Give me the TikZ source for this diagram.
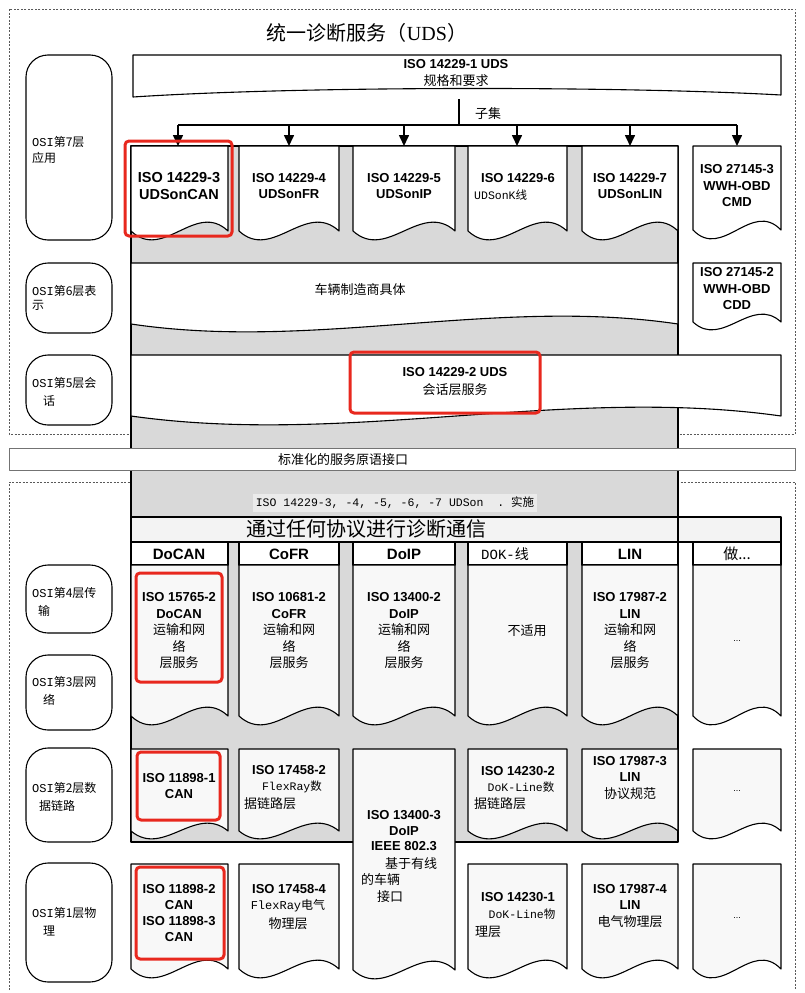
\documentclass[tikz,border=0pt]{standalone}
\usepackage{fontspec}
\setmainfont{Liberation Sans}
\newfontfamily\zh{Noto Sans CJK SC}
\newfontfamily\mono{Liberation Mono}
\newfontfamily\serif{Liberation Serif}
\usetikzlibrary{arrows.meta}
\definecolor{grayfill}{HTML}{D9D9D9}
\definecolor{redbox}{HTML}{E8281E}
\definecolor{pale}{HTML}{F8F8F8}
\definecolor{bandfill}{HTML}{F3F3F3}
\definecolor{implbg}{HTML}{EBEBEB}
\newcommand\zht[1]{{\zh\mdseries #1}}
\newcommand\docbox[6][]{\path[#1] (#2,#3) -- (#4,#3) -- (#4,#5) .. controls ({#2+2*(#4-#2)/3},{#5-3.4*#6}) and ({#2+(#4-#2)/3},{#5+3.4*#6}) .. (#2,#5) -- cycle;}
\tikzset{
 doc/.style={draw=black, fill=white, line width=1.1pt},
 pdoc/.style={draw=black, fill=pale, line width=1.1pt},
 hdrbox/.style={draw=black, fill=white, line width=1.1pt},
 lab/.style={draw=black, fill=white, line width=1.1pt, rounded corners=22pt},
 dbox/.style={draw=black!65, line width=0.8pt, dash pattern=on 2pt off 1.5pt},
 hilite/.style={draw=redbox, line width=3pt, rounded corners=4pt},
 iso/.style={font=\fontsize{13}{16.5}\selectfont\bfseries, align=center, inner sep=0pt},
 zhs/.style={font=\zh\fontsize{13}{16.5}\selectfont, align=center, inner sep=0pt},
 hdr/.style={font=\fontsize{15}{18}\selectfont\bfseries, inner sep=0pt},
 osi/.style={font=\fontsize{12}{18}\selectfont, align=left, anchor=west, inner sep=0pt},
 mon/.style={font=\mono\fontsize{11.5}{16.5}\selectfont, inner sep=0pt},
 ellip/.style={font=\fontsize{9}{10}\selectfont, inner sep=0pt},
 busline/.style={line width=1.6pt},
 arr/.style={line width=1.6pt, -{Triangle[length=11pt,width=10pt]}},
}
\begin{document}
\begin{tikzpicture}[x=1pt,y=-1pt,line join=round]
\useasboundingbox (0,0) rectangle (805,993);
\fill[white] (0,0) rectangle (805,993);

% dashed frames
\draw[dbox] (9,9) rectangle (795,434);
\draw[dbox] (9,990) -- (9,482) -- (795,482) -- (795,990);

% gray region
\draw[fill=grayfill, line width=1.1pt] (131,146) rectangle (678,842);

% service primitive band
\draw[draw=black!55, fill=white, line width=1pt] (9,448) rectangle (795,470);
\node[zhs] (sapi) at (343,460) {标准化的服务原语接口};

% implementation text
\node[fill=implbg, inner sep=3pt, font=\mono\fontsize{11.5}{14}\selectfont] (impl) at (395,503) {ISO 14229-3, -4, -5, -6, -7 UDSon\ \ .\ \zht{实施}};

% any protocol band
\draw[fill=bandfill, line width=1.1pt] (131,517) rectangle (781,542);
\draw[line width=1.1pt] (678,517) -- (678,542);
\node[inner sep=0pt, font=\zh\fontsize{20}{24}\selectfont] (anyp) at (366,529) {通过任何协议进行诊断通信};

% title
\node[inner sep=0pt] (title) at (367,33) {\zh\fontsize{20}{24}\selectfont 统一诊断服务（{\serif UDS}）};

% left OSI labels
\draw[lab] (26,55) rectangle (112,240);
\draw[lab] (26,263) rectangle (112,333);
\draw[lab] (26,355) rectangle (112,425);
\draw[lab] (26,565) rectangle (112,633);
\draw[lab] (26,655) rectangle (112,730);
\draw[lab] (26,748) rectangle (112,842);
\draw[lab] (26,863) rectangle (112,982);
\node[osi] (o7) at (32,150) {{\mono OSI}\zht{第7层}\\[-2pt]\zht{应用}};
\node[osi] (o6) at (32,298) {{\mono OSI}\zht{第6层表}\\[-4pt]\zht{示}};
\node[osi] (o5) at (32,392) {{\mono OSI}\zht{第5层会}\\\hspace*{11pt}\zht{话}};
\node[osi] (o4) at (32,602) {{\mono OSI}\zht{第4层传}\\\hspace*{6pt}\zht{输}};
\node[osi] (o3) at (32,691) {{\mono OSI}\zht{第3层网}\\\hspace*{11pt}\zht{络}};
\node[osi] (o2) at (32,797) {{\mono OSI}\zht{第2层数}\\\hspace*{7pt}\zht{据链路}};
\node[osi] (o1) at (32,922) {{\mono OSI}\zht{第1层物}\\\hspace*{11pt}\zht{理}};

% top banner
\path[doc] (133,55) -- (781,55) -- (781,95) .. controls (620,86) and (300,86) .. (133,97) -- cycle;
\node[iso] (uds1) at (456,73) {ISO 14229-1 UDS\\\zht{规格和要求}};

% subset arrows
\coordinate (stemtop) at (459,99);
\coordinate (stembot) at (459,125);
\coordinate (b1) at (178,125);
\coordinate (b2) at (289,125);
\coordinate (b3) at (404,125);
\coordinate (b4) at (517,125);
\coordinate (b5) at (630,125);
\coordinate (b6) at (737,125);
\coordinate (t1) at (178,146);
\coordinate (t2) at (289,146);
\coordinate (t3) at (404,146);
\coordinate (t4) at (517,146);
\coordinate (t5) at (630,146);
\coordinate (t6) at (737,146);
\draw[busline] (stemtop) -- (stembot);
\draw[busline] (b1) -- (b6);
\foreach \i in {1,...,6}{\draw[arr] (b\i) -- (t\i);}
\node[zhs] (subset) at (488,114) {子集};

% level 7 boxes
\docbox[doc]{131}{146}{228}{231}{9}
\docbox[doc]{239}{146}{339}{231}{9}
\docbox[doc]{353}{146}{455}{231}{9}
\docbox[doc]{468}{146}{567}{231}{9}
\docbox[doc]{582}{146}{678}{231}{9}
\docbox[doc]{693}{146}{781}{230}{9}
\node[iso, font=\fontsize{14.5}{16.5}\selectfont\bfseries] (u3) at (179,186) {ISO 14229-3\\UDSonCAN};
\node[iso] (u4) at (289,186) {ISO 14229-4\\UDSonFR};
\node[iso] (u5) at (404,186) {ISO 14229-5\\UDSonIP};
\node[iso] (u6) at (518,178) {ISO 14229-6};
\node[mon, anchor=west] (u6b) at (474,195) {UDSonK\zht{线}};
\node[iso] (u7) at (630,186) {ISO 14229-7\\UDSonLIN};
\node[iso] (w3) at (737,186) {ISO 27145-3\\WWH-OBD\\CMD};

% level 6
\docbox[doc]{131}{263}{678}{324}{8}
\docbox[doc]{693}{263}{781}{322}{8}
\node[zhs] (oem) at (360,290) {车辆制造商具体};
\node[iso] (w2) at (737,289) {ISO 27145-2\\WWH-OBD\\CDD};

% level 5
\docbox[doc]{131}{355}{781}{416}{9}
\node[iso, font=\fontsize{13}{18}\selectfont\bfseries] (uds2) at (455,382) {ISO 14229-2 UDS\\\zht{会话层服务}};

% lower column headers
\draw[hdrbox] (131,542) rectangle (228,565);
\draw[hdrbox] (239,542) rectangle (339,565);
\draw[hdrbox] (353,542) rectangle (455,565);
\draw[hdrbox] (468,542) rectangle (567,565);
\draw[hdrbox] (582,542) rectangle (678,565);
\draw[hdrbox] (693,542) rectangle (781,565);
\node[hdr] (hcan) at (179,554) {DoCAN};
\node[hdr] (hfr) at (289,554) {CoFR};
\node[hdr] (hip) at (404,554) {DoIP};
\node[inner sep=0pt, font=\mono\fontsize{14}{16}\selectfont] (hk) at (505,554) {DOK-\zht{线}};
\node[hdr] (hlin) at (630,554) {LIN};
\node[inner sep=0pt, font=\zh\fontsize{15}{18}\selectfont] (hdo) at (737,554) {做...};

% layer 4-3 bodies
\docbox[pdoc]{131}{565}{228}{716}{9}
\docbox[pdoc]{239}{565}{339}{716}{9}
\docbox[pdoc]{353}{565}{455}{716}{9}
\docbox[pdoc]{468}{565}{567}{716}{9}
\docbox[pdoc]{582}{565}{678}{716}{9}
\docbox[pdoc]{693}{565}{781}{716}{9}
\node[iso] (n1) at (179,631) {ISO 15765-2\\DoCAN\\\zht{运输和网}\\\zht{络}\\\zht{层服务}};
\node[iso] (n2) at (289,631) {ISO 10681-2\\CoFR\\\zht{运输和网}\\\zht{络}\\\zht{层服务}};
\node[iso] (n3) at (404,631) {ISO 13400-2\\DoIP\\\zht{运输和网}\\\zht{络}\\\zht{层服务}};
\node[zhs] (n4) at (527,631) {不适用};
\node[iso] (n5) at (630,631) {ISO 17987-2\\LIN\\\zht{运输和网}\\\zht{络}\\\zht{层服务}};
\node[ellip] (n6) at (737,641) {...};

% layer 2
\docbox[pdoc]{131}{749}{228}{831}{8}
\docbox[pdoc]{239}{749}{339}{831}{8}
\docbox[pdoc]{353}{749}{455}{970}{9}
\docbox[pdoc]{468}{749}{567}{831}{8}
\docbox[pdoc]{582}{749}{678}{831}{8}
\docbox[pdoc]{693}{749}{781}{831}{8}
\node[iso] (d1) at (179,786) {ISO 11898-1\\CAN};
\node[iso] (d2) at (289,770) {ISO 17458-2};
\node[mon] (d2b) at (292,787) {FlexRay\zht{数}};
\node[zhs, anchor=west] (d2c) at (244,804) {据链路层};
\node[iso] (d4) at (518,771) {ISO 14230-2};
\node[mon] (d4b) at (521,787) {DoK-Line\zht{数}};
\node[zhs, anchor=west] (d4c) at (474,804) {据链路层};
\node[iso] (d5) at (630,778) {ISO 17987-3\\LIN\\\zht{协议规范}};
\node[ellip] (d6) at (737,791) {...};

% DoIP layers 2-1
\node[iso, font=\fontsize{13}{15.5}\selectfont\bfseries] (p3) at (404,831) {ISO 13400-3\\DoIP\\IEEE 802.3};
\node[zhs] (p3b) at (411,864) {基于有线};
\node[zhs, anchor=west] (p3c) at (361,880) {的车辆};
\node[zhs] (p3d) at (390,897) {接口};

% layer 1
\docbox[pdoc]{131}{864}{228}{969}{9}
\docbox[pdoc]{239}{864}{339}{969}{9}
\docbox[pdoc]{468}{864}{567}{969}{9}
\docbox[pdoc]{582}{864}{678}{969}{9}
\docbox[pdoc]{693}{864}{781}{969}{9}
\node[iso, font=\fontsize{13}{15.7}\selectfont\bfseries] (ph1) at (179,913) {ISO 11898-2\\CAN\\ISO 11898-3\\CAN};
\node[iso] (ph2) at (289,889) {ISO 17458-4};
\node[mon, font=\mono\fontsize{12}{14}\selectfont] (ph2b) at (288,906) {FlexRay\zht{电气}};
\node[zhs] (ph2c) at (288,924) {物理层};
\node[iso] (ph4) at (518,897) {ISO 14230-1};
\node[mon] (ph4b) at (522,914) {DoK-Line\zht{物}};
\node[zhs, anchor=west] (ph4c) at (475,932) {理层};
\node[iso] (ph5) at (630,906) {ISO 17987-4\\LIN\\\zht{电气物理层}};
\node[ellip] (ph6) at (737,918) {...};

% red highlights
\draw[hilite] (125,141) rectangle (232,236);
\draw[hilite] (350,352) rectangle (540,413);
\draw[hilite] (136,573) rectangle (222,682);
\draw[hilite] (137,752) rectangle (220,820);
\draw[hilite] (136,867) rectangle (224,959);
\end{tikzpicture}
\end{document}
